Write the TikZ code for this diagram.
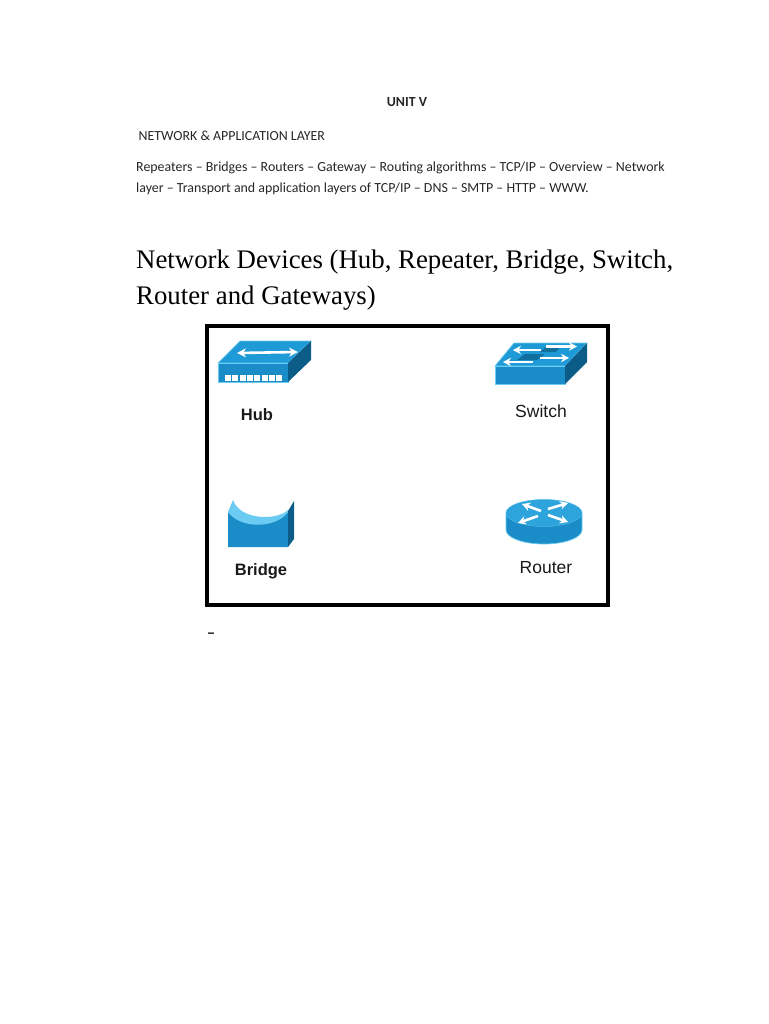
\documentclass[tikz,border=0pt]{standalone}
\usepackage{fontspec}
\setmainfont{Carlito}
\newfontfamily\headfont{Liberation Serif}
\newfontfamily\iconfont{Liberation Sans}
\usetikzlibrary{calc,arrows.meta}

\definecolor{icontop}{HTML}{1E9AD6}
\definecolor{iconfront}{HTML}{1A8CC8}
\definecolor{iconside}{HTML}{0B5C86}
\definecolor{iconedge}{HTML}{6CCBF2}

\tikzset{
    doctext/.style={anchor=west,font=\fontsize{13.9}{16}\selectfont,text=black!85,inner sep=0pt},
    headtext/.style={anchor=west,font=\headfont\fontsize{26.8}{32}\selectfont,inner sep=0pt},
    iconlabel/.style={font=\iconfont\fontsize{17.5}{20}\selectfont,text=black!90,inner sep=0pt},
    boldlabel/.style={font=\iconfont\bfseries\fontsize{16.5}{18}\selectfont,text=black!90,inner sep=0pt},
    whitearrow/.style={draw=white,line width=2.6pt,-{Stealth[length=8pt,width=8.5pt]}},
}

\begin{document}
\begin{tikzpicture}[x=1pt,y=-1pt]

    \useasboundingbox (0,0) rectangle (768,1024);

    %texts
    \node[doctext,anchor=center,font=\bfseries\fontsize{13.9}{16}\selectfont] (unit) at (407,102.5) {UNIT V};
    \node[doctext] (layer) at (138.5,135.5) {NETWORK \& APPLICATION LAYER};
    \node[doctext] (syl1) at (136,168) {Repeaters -- Bridges -- Routers -- Gateway -- Routing algorithms -- TCP/IP -- Overview -- Network};
    \node[doctext] (syl2) at (136,189) {layer -- Transport and application layers of TCP/IP -- DNS -- SMTP -- HTTP -- WWW.};
    \node[headtext] (head1) at (136,262) {Network Devices (Hub, Repeater, Bridge, Switch,};
    \node[headtext] (head2) at (136,298) {Router and Gateways)};
    \node[doctext,anchor=center,font=\bfseries\fontsize{17}{18}\selectfont] (dash) at (211,636) {--};

    %frame
    \draw[line width=4pt,black] (207,325.5) rectangle (608,605);

    %hub
    \draw[iconedge,fill=icontop,line width=.7pt] (240,341) -- (311,341) -- (288,363) -- (218,363) -- cycle;
    \draw[iconedge,fill=iconfront,line width=.7pt] (218,363) -- (288,363) -- (288,382) -- (218,382) -- cycle;
    \fill[iconside] (288,363) -- (311,341) -- (311,360) -- (288,382) -- cycle;
    \draw[whitearrow,{Stealth[length=9pt,width=9pt]}-{Stealth[length=9pt,width=9pt]}] (237,353) -- (298,352);
    \foreach \x in {225,232.3,...,279}
    \fill[white] (\x,375) rectangle +(6,5.5);
    \node[boldlabel] (hub) at (257,415) {Hub};

    %switch
    \draw[iconedge,fill=icontop,line width=.7pt] (514,343) -- (587,343) -- (565,366) -- (495,366) -- cycle;
    \draw[iconedge,fill=iconfront,line width=.7pt] (495,366) -- (565,366) -- (565,384) -- (495,384) -- cycle;
    \fill[iconside] (565,366) -- (587,343) -- (587,362) -- (565,384) -- cycle;
    \fill[iconside!70!icontop] (525,354) -- (545,354) -- (537,360) -- (517,360) -- cycle;
    \fill[iconside!70!icontop] (546,347) -- (560,347) -- (556,352) -- (540,352) -- cycle;
    \draw[whitearrow] (541,350) -- (513,350);
    \draw[whitearrow] (546,346.5) -- (577,346.5);
    \draw[whitearrow] (533,362) -- (503,362);
    \draw[whitearrow] (540,358) -- (569,358);
    \node[iconlabel] (switch) at (541,411) {Switch};

    %bridge
    \fill[iconfront] (228,512) .. controls (240,527) and (276,527) .. (288,512) -- (288,547) -- (228,547) -- cycle;
    \fill[iconedge] (228,512) -- (233,500) .. controls (240,520) and (276,521) .. (288,510) -- (288,512) .. controls (276,529) and (240,529) .. (228,512) -- cycle;
    \fill[iconside] (288,511) -- (294,501) -- (294,539) -- (288,547) -- cycle;
    \node[boldlabel] (bridge) at (261,571) {Bridge};

    %router
    \draw[iconedge,fill=iconfront,line width=.7pt] (506,513) -- (506,530) arc[start angle=180,end angle=0,x radius=38,y radius=14] -- (582,513) -- cycle;
    \draw[iconedge!60!icontop,fill=icontop!80!iconedge,line width=.5pt] (544,513) ellipse[x radius=38,y radius=13.5];
    \draw[whitearrow] (541,511) -- (522,504);
    \draw[whitearrow] (548,509) -- (568,503);
    \draw[whitearrow] (538,516) -- (518,523);
    \draw[whitearrow] (548,515) -- (568,522);
    \node[iconlabel] (router) at (546,568) {Router};

\end{tikzpicture}
\end{document}
